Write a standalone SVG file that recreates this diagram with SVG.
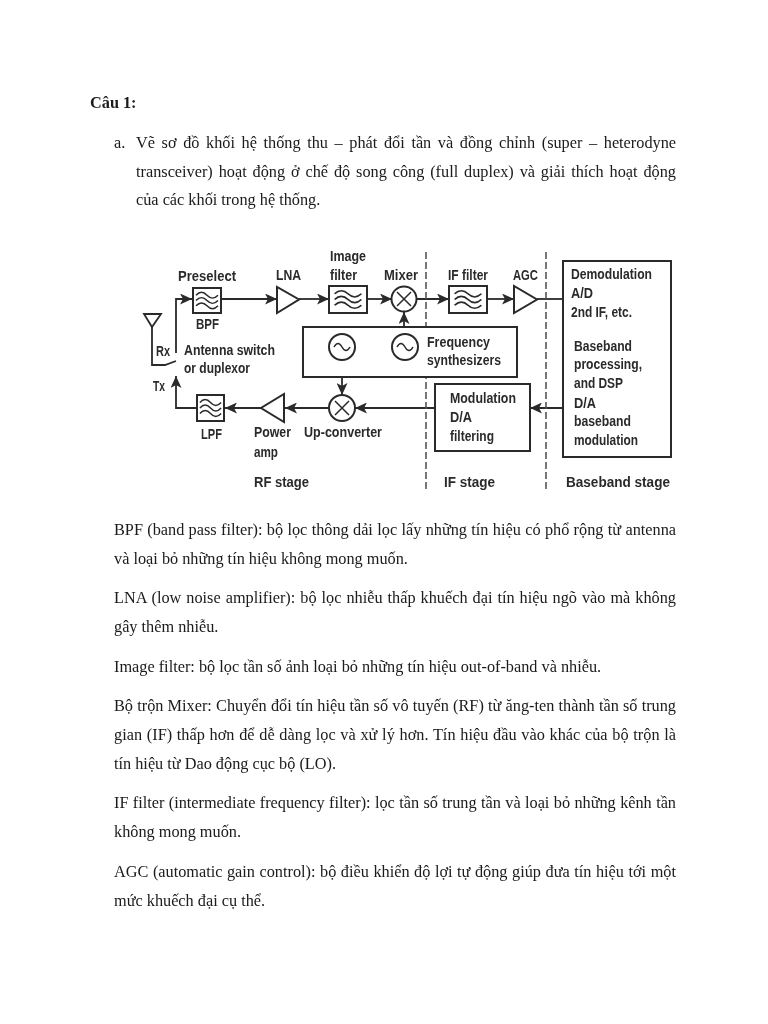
<svg xmlns="http://www.w3.org/2000/svg" width="768" height="1024" viewBox="0 0 768 1024">
<style>
.b{font-family:"Liberation Serif","Noto Sans",serif;font-size:16.27px;fill:#1a1a1a}
.d{font-family:"Liberation Sans",Arial,sans-serif;font-size:14.5px;font-weight:bold;fill:#2a2a2a}
.s{fill:#fff;stroke:#2a2a2a;stroke-width:2}
.l{fill:none;stroke:#2a2a2a;stroke-width:1.8}
.w{fill:none;stroke:#2a2a2a;stroke-width:1.5}
.dash{fill:none;stroke:#555;stroke-width:1.6;stroke-dasharray:7 3}
</style>
<defs>
<marker id="a" markerUnits="userSpaceOnUse" markerWidth="13" markerHeight="11" refX="12" refY="5.500" orient="auto"><path d="M0 0L12 5.500L0 11L3 5.500Z" fill="#2a2a2a"/></marker>
<symbol id="wave" viewBox="0 0 28 26" preserveAspectRatio="none"><path class="w" d="M3 7.500q5.500-6 11 0t11 0M3 13q5.500-6 11 0t11 0M3 18.500q5.500-6 11 0t11 0"/></symbol>
<filter id="blur" x="-5%" y="-5%" width="110%" height="110%"><feGaussianBlur stdDeviation="0.55"/></filter>
<filter id="soft" x="-2%" y="-2%" width="104%" height="104%"><feGaussianBlur stdDeviation="0.3"/></filter>
</defs>
<rect width="768" height="1024" fill="#fff"/>
<g id="page-text" filter="url(#soft)">
<text class="b" x="90" y="108" font-weight="bold">Câu 1:</text>
<text class="b" x="114" y="148">a.</text>
<text class="b" x="136" y="148" word-spacing="2.56" textLength="540" lengthAdjust="spacing">Vẽ sơ đồ khối hệ thống thu – phát đổi tần và đồng chỉnh (super – heterodyne</text>
<text class="b" x="136" y="177" word-spacing="1.82" textLength="540" lengthAdjust="spacing">transceiver) hoạt động ở chế độ song công (full duplex) và giải thích hoạt động</text>
<text class="b" x="136" y="205">của các khối trong hệ thống.</text>
<text class="b" x="114" y="535" word-spacing="0.29" textLength="562" lengthAdjust="spacing">BPF (band pass filter): bộ lọc thông dải lọc lấy những tín hiệu có phổ rộng từ antenna</text>
<text class="b" x="114" y="564">và loại bỏ những tín hiệu không mong muốn.</text>
<text class="b" x="114" y="603" word-spacing="0.93" textLength="562" lengthAdjust="spacing">LNA (low noise amplifier): bộ lọc nhiễu thấp khuếch đại tín hiệu ngõ vào mà không</text>
<text class="b" x="114" y="632">gây thêm nhiễu.</text>
<text class="b" x="114" y="672">Image filter: bộ lọc tần số ảnh loại bỏ những tín hiệu out-of-band và nhiễu.</text>
<text class="b" x="114" y="711" word-spacing="0.17" textLength="562" lengthAdjust="spacing">Bộ trộn Mixer: Chuyển đổi tín hiệu tần số vô tuyến (RF) từ ăng-ten thành tần số trung</text>
<text class="b" x="114" y="740" word-spacing="0.62" textLength="562" lengthAdjust="spacing">gian (IF) thấp hơn để dễ dàng lọc và xử lý hơn. Tín hiệu đầu vào khác của bộ trộn là</text>
<text class="b" x="114" y="769">tín hiệu từ Dao động cục bộ (LO).</text>
<text class="b" x="114" y="808" word-spacing="0.36" textLength="562" lengthAdjust="spacing">IF filter (intermediate frequency filter): lọc tần số trung tần và loại bỏ những kênh tần</text>
<text class="b" x="114" y="837">không mong muốn.</text>
<text class="b" x="114" y="877" word-spacing="0.5" textLength="562" lengthAdjust="spacing">AGC (automatic gain control): bộ điều khiển độ lợi tự động giúp đưa tín hiệu tới một</text>
<text class="b" x="114" y="906">mức khuếch đại cụ thể.</text>
</g>
<g id="diagram" filter="url(#blur)">
<g id="connectors">
<path class="l" d="M152 327V365H165L176 361"/>
<path class="l" d="M176 353V299H192" marker-end="url(#a)"/>
<path class="l" d="M221 299H277" marker-end="url(#a)"/>
<path class="l" d="M299 299H329" marker-end="url(#a)"/>
<path class="l" d="M367 299H392" marker-end="url(#a)"/>
<path class="l" d="M416 299H449" marker-end="url(#a)"/>
<path class="l" d="M487 299H514" marker-end="url(#a)"/>
<path class="l" d="M537 299H563"/>
<path class="l" d="M404 327V312" marker-end="url(#a)"/>
<path class="l" d="M342 360V395" marker-end="url(#a)"/>
<path class="l" d="M563 408H530" marker-end="url(#a)"/>
<path class="l" d="M435 408H355" marker-end="url(#a)"/>
<path class="l" d="M329 408H285" marker-end="url(#a)"/>
<path class="l" d="M261 408H225" marker-end="url(#a)"/>
<path class="l" d="M197 408H176V376" marker-end="url(#a)"/>
<path class="dash" d="M426 252V492M546 252V492"/>
</g>
<g id="antenna"><path class="l" d="M144 314H161L152 327Z"/><text class="d" x="156" y="356" textLength="14" lengthAdjust="spacingAndGlyphs">Rx</text><text class="d" x="153" y="391" textLength="12" lengthAdjust="spacingAndGlyphs">Tx</text></g>
<g id="duplexor"><text class="d" x="184" y="355" textLength="91" lengthAdjust="spacingAndGlyphs">Antenna switch</text><text class="d" x="184" y="373" textLength="66" lengthAdjust="spacingAndGlyphs">or duplexor</text></g>
<g id="bpf"><rect class="s" x="193" y="288" width="28" height="25"/><use href="#wave" x="193" y="288" width="28" height="25"/><text class="d" x="178" y="281" textLength="58" lengthAdjust="spacingAndGlyphs">Preselect</text><text class="d" x="196" y="329" textLength="23" lengthAdjust="spacingAndGlyphs">BPF</text></g>
<g id="lna"><path class="s" d="M277 287V313L299 299.500Z"/><text class="d" x="276" y="280" textLength="25" lengthAdjust="spacingAndGlyphs">LNA</text></g>
<g id="image-filter"><rect class="s" x="329" y="286" width="38" height="27"/><use href="#wave" x="331" y="286" width="34" height="27"/><text class="d" x="330" y="261" textLength="36" lengthAdjust="spacingAndGlyphs">Image</text><text class="d" x="330" y="280" textLength="27" lengthAdjust="spacingAndGlyphs">filter</text></g>
<g id="mixer"><circle class="s" cx="404" cy="299" r="12.500"/><path class="w" d="M397 292L411 306M411 292L397 306"/><text class="d" x="384" y="280" textLength="34" lengthAdjust="spacingAndGlyphs">Mixer</text></g>
<g id="if-filter"><rect class="s" x="449" y="286" width="38" height="27"/><use href="#wave" x="451" y="286" width="34" height="27"/><text class="d" x="448" y="280" textLength="40" lengthAdjust="spacingAndGlyphs">IF filter</text></g>
<g id="agc"><path class="s" d="M514 286V313L537 299.500Z"/><text class="d" x="513" y="280" textLength="25" lengthAdjust="spacingAndGlyphs">AGC</text></g>
<g id="synth"><rect class="s" x="303" y="327" width="214" height="50"/><circle class="s" cx="342" cy="347" r="13"/><path class="w" d="M334 347q4-7 8 0t8 0"/><circle class="s" cx="405" cy="347" r="13"/><path class="w" d="M397 347q4-7 8 0t8 0"/><text class="d" x="427" y="347" textLength="63" lengthAdjust="spacingAndGlyphs">Frequency</text><text class="d" x="427" y="365" textLength="74" lengthAdjust="spacingAndGlyphs">synthesizers</text></g>
<g id="baseband"><rect class="s" x="563" y="261" width="108" height="196"/>
<text class="d" x="571" y="279" textLength="81" lengthAdjust="spacingAndGlyphs">Demodulation</text><text class="d" x="571" y="298" textLength="22" lengthAdjust="spacingAndGlyphs">A/D</text><text class="d" x="571" y="317" textLength="61" lengthAdjust="spacingAndGlyphs">2nd IF, etc.</text>
<text class="d" x="574" y="351" textLength="58" lengthAdjust="spacingAndGlyphs">Baseband</text><text class="d" x="574" y="369" textLength="68" lengthAdjust="spacingAndGlyphs">processing,</text><text class="d" x="574" y="388" textLength="49" lengthAdjust="spacingAndGlyphs">and DSP</text><text class="d" x="574" y="408" textLength="22" lengthAdjust="spacingAndGlyphs">D/A</text><text class="d" x="574" y="426" textLength="57" lengthAdjust="spacingAndGlyphs">baseband</text><text class="d" x="574" y="445" textLength="64" lengthAdjust="spacingAndGlyphs">modulation</text></g>
<g id="modulation"><rect class="s" x="435" y="384" width="95" height="67"/><text class="d" x="450" y="403" textLength="66" lengthAdjust="spacingAndGlyphs">Modulation</text><text class="d" x="450" y="422" textLength="22" lengthAdjust="spacingAndGlyphs">D/A</text><text class="d" x="450" y="441" textLength="44" lengthAdjust="spacingAndGlyphs">filtering</text></g>
<g id="up-converter"><circle class="s" cx="342" cy="408" r="13"/><path class="w" d="M335 401L349 415M349 401L335 415"/><text class="d" x="304" y="437" textLength="78" lengthAdjust="spacingAndGlyphs">Up-converter</text></g>
<g id="power-amp"><path class="s" d="M284 394V422L261 408Z"/><text class="d" x="254" y="437" textLength="37" lengthAdjust="spacingAndGlyphs">Power</text><text class="d" x="254" y="457" textLength="24" lengthAdjust="spacingAndGlyphs">amp</text></g>
<g id="lpf"><rect class="s" x="197" y="395" width="27" height="26"/><use href="#wave" x="197" y="395" width="27" height="26"/><text class="d" x="201" y="439" textLength="21" lengthAdjust="spacingAndGlyphs">LPF</text></g>
<g id="stages"><text class="d" x="254" y="487" textLength="55" lengthAdjust="spacingAndGlyphs">RF stage</text><text class="d" x="444" y="487" textLength="51" lengthAdjust="spacingAndGlyphs">IF stage</text><text class="d" x="566" y="487" textLength="104" lengthAdjust="spacingAndGlyphs">Baseband stage</text></g>
</g>
</svg>
